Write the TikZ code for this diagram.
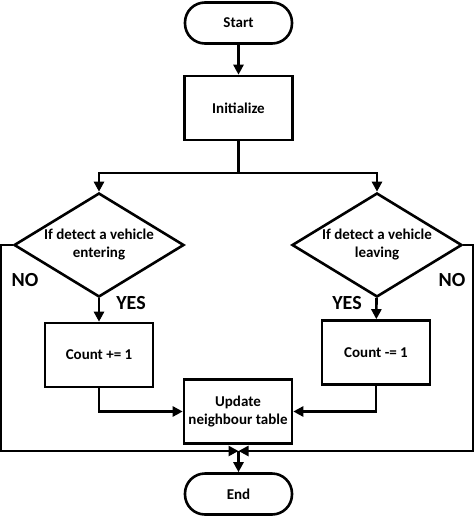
\documentclass[tikz,border=0pt]{standalone}
\usepackage{fontspec}
\setmainfont{Carlito}
\usetikzlibrary{shapes.geometric,arrows.meta}
\begin{document}
\begin{tikzpicture}[x=1pt,y=-1pt,line width=2.6pt,
  font=\bfseries\fontsize{15}{18}\selectfont,
  term/.style={draw,rounded corners=20pt,minimum width=107pt,minimum height=41pt},
  proc/.style={draw,minimum width=108pt,minimum height=64pt,align=center},
  decide/.style={draw,diamond,aspect=1.63,minimum width=170pt,minimum height=104pt,inner sep=0pt,align=center},
  lab/.style={font=\bfseries\fontsize{20}{22}\selectfont},
  >={Triangle[length=10pt,width=10pt]}]
\useasboundingbox (0,0) rectangle (474,517);

\node[term] (start) at (238.5,23) {Start};
\node[proc] (init) at (238.5,108) {Initialize};
\node[decide] (enter) at (99,245) {If detect a vehicle\\entering};
\node[decide] (leave) at (377,245) {If detect a vehicle\\leaving};
\node[proc] (plus) at (99,355) {Count += 1};
\node[proc] (minus) at (376,352.5) {Count -= 1};
\node[proc] (update) at (238,411.5) {Update\\neighbour table};
\node[term] (end) at (238.5,494) {End};

\coordinate (split) at (238.5,173);
\coordinate (join) at (238.5,451);

\draw[->] (start) -- (init);
\draw (init) -- (split);
\draw[->] (split) -| (enter);
\draw[->] (split) -| (leave);

\draw[->] (enter) -- (plus);
\draw[->] (leave) -- (minus);
\draw[->] (plus) |- (update);
\draw[->] (minus) |- (update);

\draw[->] (enter.west) -- ++(-12,0) |- (join);
\draw[->] (leave.east) -- ++(10,0) |- (join);
\draw[->] (join) -- (end);

\node[lab] at (25,280) {NO};
\node[lab] at (452,280) {NO};
\node[lab] at (131,303) {YES};
\node[lab] at (347,303) {YES};

\end{tikzpicture}
\end{document}
